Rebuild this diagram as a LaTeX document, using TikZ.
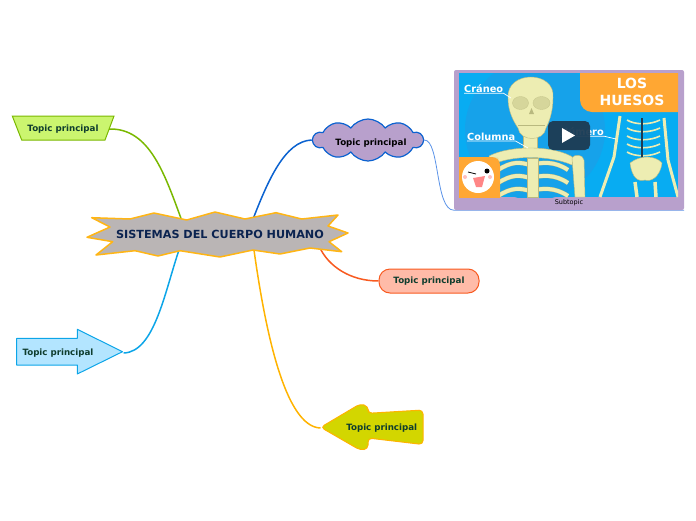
\documentclass[tikz,border=0pt]{standalone}
\usepackage{fontspec}
\setmainfont{DejaVu Sans}
\usetikzlibrary{calc,backgrounds,shapes.symbols}
\definecolor{rootfill}{HTML}{BAB5B5}
\definecolor{rootline}{HTML}{FFB515}
\definecolor{rootink}{HTML}{0B2350}
\definecolor{limefill}{HTML}{CBF56F}
\definecolor{limeline}{HTML}{7AB800}
\definecolor{cloudfill}{HTML}{B8A0CC}
\definecolor{cloudline}{HTML}{0B62D0}
\definecolor{salmonfill}{HTML}{FFBBA8}
\definecolor{salmonline}{HTML}{F85A20}
\definecolor{yellowfill}{HTML}{D3D600}
\definecolor{yellowline}{HTML}{FFB300}
\definecolor{skyfill}{HTML}{B3E5FF}
\definecolor{skyline}{HTML}{0CA5E8}
\definecolor{thinline}{HTML}{5B93E8}
\definecolor{topicink}{HTML}{0F3D2E}
\definecolor{videoblue}{HTML}{08ACF2}
\definecolor{videoglow}{HTML}{16A2EA}
\definecolor{videoorange}{HTML}{FFA733}
\definecolor{bone}{HTML}{EDEDB2}
\definecolor{boneline}{HTML}{B9B97F}
\definecolor{playbox}{HTML}{1D3B53}
\tikzset{
  topic/.style={font=\fontsize{8.7}{10}\selectfont\bfseries,text=topicink,inner sep=0pt},
  branch/.style={line width=1.5pt},
  bonepart/.style={fill=bone,draw=boneline,line width=0.4pt},
  videolabel/.style={font=\fontsize{9.8}{11}\selectfont\bfseries,text=white,inner sep=0pt}
}
\begin{document}
\begin{tikzpicture}[x=1pt,y=-1pt]
  \useasboundingbox (0,0) rectangle (696,520);

  \node[font=\fontsize{11.2}{13}\selectfont\bfseries,text=rootink,inner sep=0pt,minimum width=207pt,minimum height=24pt] (root) at (220,234.5) {SISTEMAS DEL CUERPO HUMANO};
  \node[topic,minimum width=92pt,minimum height=24pt] (trapecio) at (63,129) {Topic principal};
  \node[topic,minimum width=107pt,minimum height=27pt,text width=95pt,align=left] (flechader) at (70,353) {Topic principal};
  \node[topic,minimum width=102pt,minimum height=30pt,text width=91pt,align=right] (flechaizq) at (371.7,428) {Topic principal};
  \node[shape=cloud,cloud puffs=10,cloud puff arc=110,aspect=2.6,minimum width=110pt,minimum height=42pt,inner sep=0pt,fill=cloudfill,draw=cloudline,line width=1.2pt] (nube) at (368,140) {};
  \node[topic,text=black] (nubetexto) at (371,143.5) {Topic principal};
  \node[topic,rounded corners=11pt,minimum width=100pt,minimum height=24pt,fill=salmonfill,draw=salmonline,line width=1pt] (salmon) at (429,281) {\raisebox{-1pt}{Topic principal}};
  \node[fill=cloudfill,rounded corners=2pt,minimum width=230pt,minimum height=140pt,inner sep=0pt] (video) at (569,140) {};
  \node[font=\fontsize{6.5}{8}\selectfont,inner sep=0pt] (subtema) at (569,203) {Subtopic};

  \begin{scope}[on background layer]
    \draw[branch,draw=limeline] (trapecio.east) .. controls (150,128) and (165,175) .. (root.162.5);
    \draw[branch,draw=skyline] (flechader.east) .. controls (155,352) and (165,290) .. (root.197.5);
    \draw[branch,draw=cloudline] (root.21.8) .. controls (268,180) and (285,141) .. (nube.west);
    \draw[branch,draw=salmonline] (root.-7.4) .. controls (328,266) and (350,281) .. (salmon.west);
    \draw[branch,draw=yellowline] (root.-20) .. controls (265,330) and (285,427) .. (flechaizq.west);
    \draw[draw=thinline,line width=0.8pt] (nube.east) .. controls (440,140) and (435,210) .. (video.south west) -- (video.south east);
    \draw[fill=rootfill,draw=rootline,line width=1.5pt,line join=round] (91.7,217.7) -- (130,219) -- (154,213) -- (186.7,220) -- (215,212) -- (245,219) -- (276,212.7) -- (301.7,219) -- (338,215) -- (328,226) -- (348,233) -- (329,241.7) -- (341.7,251.7) -- (310,248) -- (280,254) -- (253,250) -- (220,257) -- (180,250.7) -- (158,256) -- (135,250.7) -- (96,255) -- (112.7,241.7) -- (87,237.3) -- (110,227) -- cycle;
    \draw[fill=limefill,draw=limeline,line width=1pt] (12.3,116) -- (114,116) -- (105,140) -- (21.7,140) -- cycle;
    \draw[fill=skyfill,draw=skyline,line width=1pt,line join=round] (16.7,338.3) -- (77.3,338.3) -- (77.3,329.3) -- (122.5,351.7) -- (77.3,374) -- (77.3,365) -- (16.7,365) -- cycle;
    \draw[fill=yellowfill,draw=yellowline,line width=1pt,rounded corners=4pt] (320.7,427.3) -- (360,404) -- (368,406) -- (368,413.3) -- (423,410) -- (423,444.5) -- (368,438) -- (368,449) -- (360,450) -- cycle;
  \end{scope}

  % video thumbnail
  \begin{scope}
    \clip (459,73) rectangle (678,197);
    \fill[videoblue] (459,73) rectangle (678,197);
    \fill[videoglow] (535,130) circle (70pt);

    % big skeleton
    \draw[bonepart] (523,135) rectangle (537,152);
    \draw[bonepart] (489,156) .. controls (510,145) and (555,145) .. (574,158) -- (572,165) .. controls (550,155) and (510,155) .. (492,165) -- cycle;
    \foreach \y in {165,178,191} {
      \draw[boneline,line width=4.5pt] (498,\y+5) .. controls (512,\y-4) and (520,\y-3) .. (530,\y) .. controls (542,\y-3) and (555,\y-4) .. (568,\y+5);
      \draw[bone,line width=3.8pt] (498,\y+5) .. controls (512,\y-4) and (520,\y-3) .. (530,\y) .. controls (542,\y-3) and (555,\y-4) .. (568,\y+5);
    }
    \draw[bonepart] (527,158) rectangle (538,197);
    \draw[bonepart] (572,158) .. controls (574,154) and (583,154) .. (584,160) -- (585,197) -- (575,197) -- cycle;
    \draw[bonepart] (488,158) -- (498,158) -- (497,197) -- (490,197) -- cycle;
    \draw[bonepart] (508,98) .. controls (506,70) and (556,70) .. (553,98) .. controls (553,112) and (549,122) .. (546,128) .. controls (544,142) and (520,142) .. (518,128) .. controls (514,122) and (508,112) .. cycle;
    \draw[boneline!70!bone,fill=boneline!45!bone] (520.5,103) ellipse (8pt and 6.5pt);
    \draw[boneline!70!bone,fill=boneline!45!bone] (541.5,103) ellipse (8.5pt and 6.5pt);
    \fill[boneline] (529,114) -- (534,114) -- (531.5,108) -- cycle;
    \draw[boneline,line width=0.6pt] (518,125) -- (545,125);

    % small skeleton
    \draw[bone,line width=3pt] (620,116) -- (614,157) -- (600,197);
    \draw[bone,line width=3pt] (664,118) -- (668,160) -- (678,197);
    \foreach \y in {120,128,136,144,152}
      \draw[bone,line width=1.6pt] (627,\y) .. controls (635,\y+5) and (650,\y+5) .. (660,\y);
    \draw[playbox,line width=1.5pt] (642,118) -- (642,170);
    \draw[bonepart] (630,163) .. controls (640,155) and (655,155) .. (662,163) .. controls (660,178) and (650,182) .. (645,180) .. controls (638,182) and (632,178) .. cycle;
    \draw[bone,line width=3.5pt] (635,182) -- (637,197);
    \draw[bone,line width=3.5pt] (655,182) -- (656,197);

    \fill[videoorange,rounded corners=12pt] (580,60) -- (580,112) -- (690,112) -- (690,60) -- cycle;
    \fill[videoorange,rounded corners=8pt] (450,157) -- (500,157) -- (500,210) -- (450,210) -- cycle;
    \fill[white] (478,177) circle (16pt);
    \fill[black] (487,171) circle (2.5pt);
    \draw[black,line width=0.8pt] (468,172) -- (476,174);
    \fill[pink] (465,177) circle (2pt) (490,177) circle (2pt);
    \fill[pink!70!red] (473,178) -- (485,176) -- (482,187) -- (476,187) -- cycle;
  \end{scope}

  \node[font=\fontsize{14}{16}\selectfont\bfseries,text=white,inner sep=0pt] (los) at (632,83) {LOS};
  \node[font=\fontsize{14}{16}\selectfont\bfseries,text=white,inner sep=0pt] (huesos) at (632,100) {HUESOS};
  \node[videolabel,anchor=west] (craneo) at (464,89) {Cráneo};
  \node[videolabel,anchor=west] (columna) at (467,137) {Columna};
  \node[videolabel,anchor=west] (humero) at (560,132) {Húmero};
  \draw[white,line width=0.7pt] (craneo.south west) -- (craneo.south east) -- (511,98);
  \draw[white,line width=0.7pt] (columna.south west) -- (columna.south east) -- (528,148);
  \draw[white,line width=0.7pt] (humero.south west) -- (humero.south east) -- (616,139);

  \fill[playbox,rounded corners=5pt,opacity=0.95] (548,121) rectangle (590,150);
  \fill[white] (562,128) -- (575,135.5) -- (562,143) -- cycle;
\end{tikzpicture}
\end{document}
